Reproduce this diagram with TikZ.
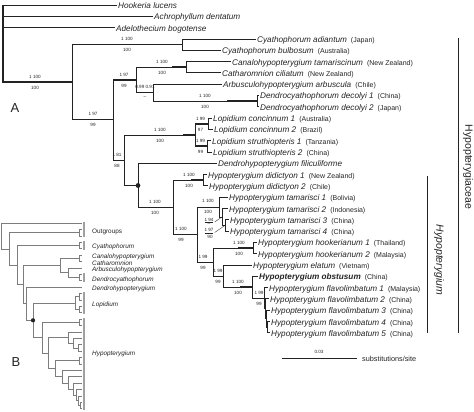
\documentclass[tikz,border=0pt]{standalone}
\usepackage{fontspec}
\setmainfont{Liberation Sans}
\usetikzlibrary{calc}
\definecolor{TreeInk}{RGB}{35,35,35}
\definecolor{CladeGray}{RGB}{125,125,125}
\definecolor{BarGray}{RGB}{160,160,160}
\tikzset{
  br/.style={draw=TreeInk,line width=0.75pt},
  heavy/.style={draw=TreeInk,line width=1.9pt},
  tip/.style={anchor=west,inner sep=1pt,text height=0.72em,text depth=0pt,
    font=\fontsize{8.2}{9}\selectfont\itshape,text=TreeInk},
  supp/.style={inner sep=0pt,font=\fontsize{4.6}{5}\selectfont,text=TreeInk},
  leader/.style={draw=TreeInk,line width=0.35pt},
  side/.style={draw=TreeInk,line width=0.8pt},
  bbr/.style={draw=CladeGray,line width=0.6pt},
  bbar/.style={draw=BarGray,line width=2pt},
  btip/.style={anchor=west,inner sep=0pt,text height=0.72em,text depth=0pt,
    font=\fontsize{6.4}{7}\selectfont\itshape,text=TreeInk},
  panel/.style={font=\fontsize{13}{14}\selectfont,text=TreeInk},
}
\newcommand{\ctry}[1]{\hspace{4pt}{\upshape\mdseries\fontsize{7}{8}\selectfont(#1)}}
\newcommand{\heavyend}[2]{\draw[heavy] ($(#1)+(-#2,0)$) -- (#1);}

\begin{document}
\begin{tikzpicture}[x=1pt,y=-1pt]
\useasboundingbox (0,0) rectangle (474,412);

% ---- tree A: inner nodes
\coordinate (r) at (3,43.5);
\coordinate (n1) at (72,82);
\coordinate (ncy) at (182,44.5);
\coordinate (n2) at (113,119.5);
\coordinate (n3) at (136,79.8);
\coordinate (ncc) at (186,67.2);
\coordinate (n3b) at (153,92.5);
\coordinate (ndd) at (257,101);
\coordinate (n5) at (124,160.5);
\coordinate (nlop) at (195,135);
\coordinate (nlc) at (208,123.7);
\coordinate (nls) at (207,146.3);
\coordinate (n6) at (138,185.5);
\coordinate (n7) at (173,207.5);
\coordinate (ndid) at (203,180);
\coordinate (n8) at (197,234.5);
\coordinate (nt) at (219,207);
\coordinate (nt2) at (222,216.9);
\coordinate (nt3) at (225,225.4);
\coordinate (n9) at (213,262);
\coordinate (nh) at (253,248);
\coordinate (n10) at (223,276);
\coordinate (n11) at (252,287.2);
\coordinate (nf) at (264,298.1);
\coordinate (nf2) at (265.5,308.7);
\coordinate (nf3) at (266.5,318.6);
\coordinate (nf4) at (267.5,327);

% ---- tree A: leaves
\node[tip] (l1) at (117,5) {Hookeria lucens};
\node[tip] (l2) at (153,16.3) {Achrophyllum dentatum};
\node[tip] (l3) at (115,27.6) {Adelothecium bogotense};
\node[tip] (l4) at (256,38.9) {Cyathophorum adiantum\ctry{Japan}};
\node[tip] (l5) at (221,50.2) {Cyathophorum bulbosum\ctry{Australia}};
\node[tip] (l6) at (231,61.5) {Canalohypopterygium tamariscinum\ctry{New Zealand}};
\node[tip] (l7) at (221,72.8) {Catharomnion ciliatum\ctry{New Zealand}};
\node[tip] (l8) at (222,84.1) {Arbusculohypopterygium arbuscula\ctry{Chile}};
\node[tip] (l9) at (259,95.4) {Dendrocyathophorum decolyi 1\ctry{China}};
\node[tip] (l10) at (259,106.7) {Dendrocyathophorum decolyi 2\ctry{Japan}};
\node[tip] (l11) at (212,118) {Lopidium concinnum 1\ctry{Australia}};
\node[tip] (l12) at (213,129.3) {Lopidium concinnum 2\ctry{Brazil}};
\node[tip] (l13) at (211,140.6) {Lopidium struthiopteris 1\ctry{Tanzania}};
\node[tip] (l14) at (212,151.9) {Lopidium struthiopteris 2\ctry{China}};
\node[tip] (l15) at (217,163.2) {Dendrohypopterygium filiculiforme};
\node[tip] (l16) at (207,174.5) {Hypopterygium didictyon 1\ctry{New Zealand}};
\node[tip] (l17) at (208,185.8) {Hypopterygium didictyon 2\ctry{Chile}};
\node[tip] (l18) at (228,197.1) {Hypopterygium tamarisci 1\ctry{Bolivia}};
\node[tip] (l19) at (228,208.4) {Hypopterygium tamarisci 2\ctry{Indonesia}};
\node[tip] (l20) at (229,219.7) {Hypopterygium tamarisci 3\ctry{China}};
\node[tip] (l21) at (229,231) {Hypopterygium tamarisci 4\ctry{China}};
\node[tip] (l22) at (257,242.3) {Hypopterygium hookerianum 1\ctry{Thailand}};
\node[tip] (l23) at (257,253.6) {Hypopterygium hookerianum 2\ctry{Malaysia}};
\node[tip] (l24) at (252,264.9) {Hypopterygium elatum\ctry{Vietnam}};
\node[tip,font=\fontsize{8.2}{9}\selectfont\bfseries\itshape] (l25) at (258,276.2) {Hypopterygium obstusum\ctry{China}};
\node[tip] (l26) at (268,287.5) {Hypopterygium flavolimbatum 1\ctry{Malaysia}};
\node[tip] (l27) at (269,298.8) {Hypopterygium flavolimbatum 2\ctry{China}};
\node[tip] (l28) at (270,310.1) {Hypopterygium flavolimbatum 3\ctry{China}};
\node[tip] (l29) at (270,321.4) {Hypopterygium flavolimbatum 4\ctry{China}};
\node[tip] (l30) at (270,332.7) {Hypopterygium flavolimbatum 5\ctry{China}};

% ---- tree A: branches
\foreach \c in {l1,l2,l3} \draw[br] (r) |- (\c.west);
\draw[heavy] (r |- l1.west) -- (r |- n1) -- (n1);
\draw[br] (n1) |- (ncy);
\draw[br] (n1) |- (n2);
\foreach \c in {l4,l5} \draw[br] (ncy) |- (\c.west);
\draw[br] (n2) |- (n3);
\draw[br] (n2) |- (n5);
\draw[br] (n3) |- (ncc);
\draw[br] (n3) |- (n3b);
\foreach \c in {l6,l7} \draw[br] (ncc) |- (\c.west);
\draw[br] (n3b) |- (l8.west);
\draw[br] (n3b) |- (ndd);
\foreach \c in {l9,l10} \draw[br] (ndd) |- (\c.west);
\draw[br] (n5) |- (nlop);
\draw[br] (n5) |- (n6);
\draw[br] (nlop) |- (nlc);
\draw[br] (nlop) |- (nls);
\foreach \c in {l11,l12} \draw[br] (nlc) |- (\c.west);
\foreach \c in {l13,l14} \draw[br] (nls) |- (\c.west);
\draw[br] (n6) |- (l15.west);
\draw[br] (n6) |- (n7);
\draw[br] (n7) |- (ndid);
\draw[br] (n7) |- (n8);
\foreach \c in {l16,l17} \draw[br] (ndid) |- (\c.west);
\draw[br] (n8) |- (nt);
\draw[br] (n8) |- (n9);
\draw[br] (nt) |- (l18.west);
\draw[br] (nt) |- (nt2);
\draw[br] (nt2) |- (l19.west);
\draw[br] (nt2) |- (nt3);
\foreach \c in {l20,l21} \draw[br] (nt3) |- (\c.west);
\draw[br] (n9) |- (nh);
\draw[br] (n9) |- (n10);
\foreach \c in {l22,l23} \draw[br] (nh) |- (\c.west);
\draw[br] (n10) |- (l24.west);
\draw[br] (n10) |- (n11);
\draw[br] (n11) |- (l25.west);
\draw[br] (n11) |- (nf);
\draw[br] (nf) |- (l26.west);
\draw[br] (nf) |- (nf2);
\draw[br] (nf2) |- (l27.west);
\draw[br] (nf2) |- (nf3);
\draw[br] (nf3) |- (l28.west);
\draw[br] (nf3) |- (nf4);
\foreach \c in {l29,l30} \draw[br] (nf4) |- (\c.west);

% well supported stretches
\draw[heavy] (n2 |- n3) -- (n3);
\heavyend{ncy}{12}
\heavyend{ncc}{14}
\heavyend{ndd}{30}
\heavyend{nlop}{12}
\heavyend{nlc}{13}
\heavyend{nls}{12}
\heavyend{n7}{10}
\heavyend{ndid}{12}
\heavyend{n8}{9}
\heavyend{nh}{15}
\heavyend{n11}{12}
\fill[TreeInk] (n6) circle (2.4);

% support values (above / below the branch)
\foreach \px/\py/\up/\dn [count=\k] in {
  35/82/1 100/100, 127/44.5/1 100/100, 93/119.5/1 97/99, 124/79.8/1 97/99,
  162/67.2/1 100/100, 145/92.5/0.99 0.91/--, 205/101/1 100/100,
  117/160.5/1 81/88, 160/135/1 100/100, 200.5/123.7/1 99/97,
  200.5/146.3/1 99/99, 155/207.5/1 100/100, 189/180/1 100/100,
  181/234.5/1 100/99, 208/206.5/1 100/100, 203/262/1 99/99,
  239/248/1 100/100, 218/276/1 99/99, 238/287.2/1 100/100, 259/298.1/1 99/99}
{
  \node[supp] (up\k) at ({\px},{\py-5.2}) {\up};
  \node[supp] (dn\k) at ({\px},{\py+5.8}) {\dn};
}
\node[supp] (s94) at (209,220.5) {\underline{1 94}};
\node[supp] (s94b) at (209,225.2) {--};
\node[supp] (s97) at (209,231) {\underline{1 97}};
\node[supp] (s97b) at (210,237) {90};
\draw[leader] ($(s94.east)+(1,1.5)$) -- (nt2);
\draw[leader] ($(s97.east)+(1,1.5)$) -- (nt3);

% ---- groups on the right
\coordinate (fam1) at (458,38);
\coordinate (fam2) at (458,333);
\draw[side] (fam1) -- (fam2);
\node[rotate=-90,inner sep=0pt,font=\fontsize{10.5}{12}\selectfont,text=TreeInk] (famlab) at (468,167) {Hypopterygiaceae};
\coordinate (gen1) at (427,176);
\coordinate (gen2) at (427,333);
\draw[side] (gen1) -- (gen2);
\node[rotate=-90,inner sep=0pt,font=\fontsize{10.5}{12}\selectfont\itshape,text=TreeInk] (genlab) at (439,260) {Hypopterygium};

% ---- scale bar
\coordinate (sb1) at (282,358);
\coordinate (sb2) at (357,358);
\draw[TreeInk,line width=1pt] (sb1) -- (sb2);
\node[supp] (sbval) at (319,352) {0.03};
\node[anchor=west,inner sep=0pt,font=\fontsize{7.3}{8}\selectfont,text=TreeInk] (sbunit) at (362,358.5) {substitutions/site};

\node[panel] (pa) at (15,108) {A};
\node[panel] (pb) at (16,362) {B};

% ---- tree B (cladogram)
\foreach \i in {1,...,30} \coordinate (b\i) at (82,{223+(\i-1)*6.4});
\coordinate (broot) at (1.5,235.5);
\coordinate (bz) at (9,248.8);
\coordinate (bo) at (79,232.6);
\coordinate (by) at (17,265);
\coordinate (bcy) at (79,245.4);
\coordinate (bx) at (23,284.5);
\coordinate (bg1) at (60,265.4);
\coordinate (bcc) at (79,258.2);
\coordinate (bad) at (68,272.6);
\coordinate (bdc) at (79,277.4);
\coordinate (bdl) at (26,303.7);
\coordinate (blh) at (33,320.3);
\coordinate (blp) at (75,303);
\coordinate (blp1) at (79,296.6);
\coordinate (blp2) at (79,309.4);
\coordinate (bhyp) at (42,337.6);
\coordinate (bdid) at (79,322.2);
\coordinate (bh2) at (48,353);
\coordinate (bt) at (68,337.4);
\coordinate (bt2) at (73,343);
\coordinate (bt3) at (78,347.8);
\coordinate (bh3) at (55,368.5);
\coordinate (bhk) at (79,360.6);
\coordinate (bh4) at (62,376.5);
\coordinate (bh5) at (68,382.8);
\coordinate (bf) at (73,389);
\coordinate (bf2) at (76,395);
\coordinate (bf3) at (78.5,400.6);
\coordinate (bf4) at (80,405.4);

\foreach \p/\c in {broot/b1,broot/bz,bz/bo,bz/by,bo/b2,bo/b3,by/bcy,by/bx,
  bcy/b4,bcy/b5,bx/bg1,bx/bdl,bg1/bcc,bg1/bad,bcc/b6,bcc/b7,bad/b8,bad/bdc,
  bdc/b9,bdc/b10,bdl/b11,bdl/blh,blh/blp,blh/bhyp,blp/blp1,blp/blp2,
  blp1/b12,blp1/b13,blp2/b14,blp2/b15,bhyp/bdid,bhyp/bh2,bdid/b16,bdid/b17,
  bh2/bt,bh2/bh3,bt/b18,bt/bt2,bt2/b19,bt2/bt3,bt3/b20,bt3/b21,
  bh3/bhk,bh3/bh4,bhk/b22,bhk/b23,bh4/b24,bh4/bh5,bh5/b25,bh5/bf,
  bf/b26,bf/bf2,bf2/b27,bf2/bf3,bf3/b28,bf3/bf4,bf4/b29,bf4/b30}
  \draw[bbr] (\p) |- (\c);
\fill[TreeInk] (blh) circle (2.1);

% tip bars of the grouped genera
\foreach \ya/\yb in {222/237, 241/250, 273/282, 292/314, 318/410}
  \draw[bbar] (84,\ya) -- (84,\yb);

\node[btip,font=\fontsize{6.4}{7}\selectfont] (gout) at (92,229.4) {Outgroups};
\node[btip] (gcy) at (92,245) {Cyathophorum};
\node[btip] (gca) at (92,255) {Canalohypopterygium};
\node[btip] (gct) at (92,261.4) {Catharomnion};
\node[btip] (gar) at (92,267.8) {Arbusculohypopterygium};
\node[btip] (gdc) at (92,277.4) {Dendrocyathophorum};
\node[btip] (gdh) at (92,287) {Dendrohypopterygium};
\node[btip] (glp) at (92,303) {Lopidium};
\node[btip] (ghy) at (92,352) {Hypopterygium};
\end{tikzpicture}
\end{document}
